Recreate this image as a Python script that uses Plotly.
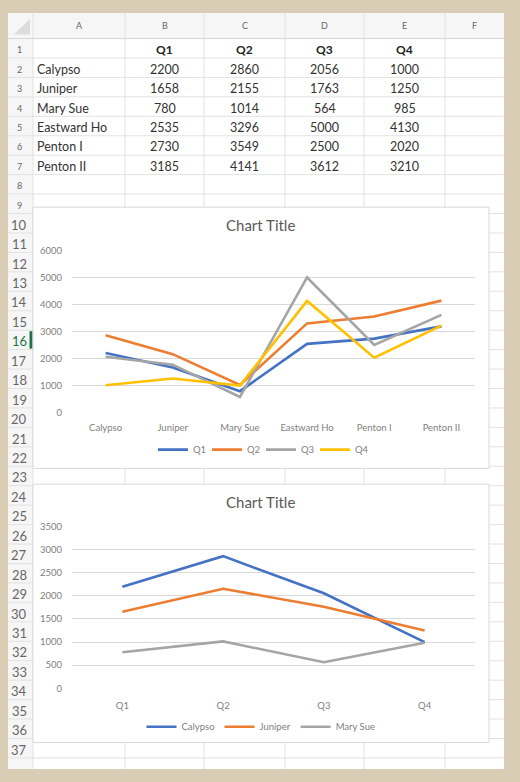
import plotly.graph_objects as go

# ---------------- data ----------------
names = ["Calypso", "Juniper", "Mary Sue", "Eastward Ho", "Penton I", "Penton II"]
quarters = ["Q1", "Q2", "Q3", "Q4"]
q1 = [2200, 1658, 780, 2535, 2730, 3185]
q2 = [2860, 2155, 1014, 3296, 3549, 4141]
q3 = [2056, 1763, 564, 5000, 2500, 3612]
q4 = [1000, 1250, 985, 4130, 2020, 3210]
col_letters = ["A", "B", "C", "D", "E", "F"]
chart_title = "Chart Title"
second_chart_names = ["Calypso", "Juniper", "Mary Sue"]

# ---------------- layout constants ----------------
W, H = 520, 782
FONT = "Lato, 'Liberation Sans', sans-serif"
colors = ["#4472C4", "#ED7D31", "#A5A5A5", "#FFC000"]
BG = "#d9cdb5"
GRID = "#e2e2e2"

def fx(x):
    return x / W

def fy(y):
    return 1 - y / H

sheet_l, sheet_r, sheet_t, sheet_b = 8, 504, 7, 774
hdr_b = 33
rownum_r = 33
row_h = 19.72
col_edges = [33, 125, 204, 285, 364, 445, 504]
n_rows = 38

shapes = []
annotations = []

def rect(x0, y0, x1, y1, fill, line=None, lw=0, layer="below"):
    shapes.append(dict(type="rect", xref="paper", yref="paper",
                       x0=fx(x0), x1=fx(x1), y0=fy(y1), y1=fy(y0),
                       fillcolor=fill, line=dict(color=line or fill, width=lw),
                       layer=layer))

def hline(x0, x1, y, color=GRID, w=1):
    shapes.append(dict(type="line", xref="paper", yref="paper",
                       x0=fx(x0), x1=fx(x1), y0=fy(y), y1=fy(y),
                       line=dict(color=color, width=w), layer="below"))

def vline(x, y0, y1, color=GRID, w=1):
    shapes.append(dict(type="line", xref="paper", yref="paper",
                       x0=fx(x), x1=fx(x), y0=fy(y0), y1=fy(y1),
                       line=dict(color=color, width=w), layer="below"))

def text(x, y, s, size=10, color="#333333", anchor="center", bold=False):
    annotations.append(dict(xref="paper", yref="paper", x=fx(x), y=fy(y),
                            text=f"<b>{s}</b>" if bold else s, showarrow=False,
                            xanchor=anchor, yanchor="middle",
                            font=dict(family=FONT, size=size, color=color)))

# sheet
rect(sheet_l, sheet_t, sheet_r, sheet_b, "white")
rect(sheet_l, sheet_t, sheet_r, hdr_b, "#f6f6f6")
rect(sheet_l, hdr_b, rownum_r, sheet_b, "#f6f6f6")
# corner triangle
shapes.append(dict(type="path", xref="paper", yref="paper",
                   path=f"M {fx(30)} {fy(29)} L {fx(30)} {fy(13)} L {fx(14)} {fy(29)} Z",
                   fillcolor="#dcdcdc", line=dict(width=0), layer="below"))

# column gridlines and header letters
for i, x in enumerate(col_edges[:-1]):
    vline(x, sheet_t, sheet_b)
for i, letter in enumerate(col_letters):
    cx = (col_edges[i] + col_edges[i + 1]) / 2
    text(cx, 20, letter, size=9, color="#666666")
hline(sheet_l, sheet_r, hdr_b, color="#d6d6d6")

# row gridlines and row numbers
for r in range(1, n_rows + 1):
    top = hdr_b + (r - 1) * row_h
    bot = top + row_h
    if bot < sheet_b:
        hline(sheet_l, sheet_r, bot)
    cy = top + row_h / 2 + 1.5
    if cy < sheet_b:
        txtcol = "#217346" if r == 16 else "#666666"
        text(19, cy, str(r), size=9 if r < 10 else 13, color=txtcol)

# selected row marker
r16_top = hdr_b + 15 * row_h
rect(29.5, r16_top + 1, 32.5, r16_top + row_h - 1, "#217346")

# table contents
def row_center(r):
    return hdr_b + (r - 1) * row_h + row_h / 2 + 1.5

for j, q in enumerate(quarters):
    cx = (col_edges[j + 1] + col_edges[j + 2]) / 2
    text(cx, row_center(1), q, size=12, bold=True, color="#222222")
series = [q1, q2, q3, q4]
for i, nm in enumerate(names):
    cy = row_center(i + 2)
    text(35, cy, nm, size=12.5, anchor="left")
    for j in range(4):
        cx = (col_edges[j + 1] + col_edges[j + 2]) / 2
        text(cx, cy, str(series[j][i]), size=12.5)

# chart boxes
rect(33, 204, 489, 469, "white", line="#d9d9d9", lw=1)
rect(33, 485, 489, 747, "white", line="#d9d9d9", lw=1)
text(260, 222, chart_title, size=15, color="#595959")
text(260, 503, chart_title, size=15, color="#595959")

# ---------------- traces ----------------
fig = go.Figure()
for j, q in enumerate(quarters):
    fig.add_trace(go.Scatter(x=names, y=series[j], mode="lines", name=q,
                             line=dict(color=colors[j], width=2.6),
                             xaxis="x", yaxis="y", legend="legend"))
for k, nm in enumerate(second_chart_names):
    idx = names.index(nm)
    vals = [s[idx] for s in series]
    fig.add_trace(go.Scatter(x=quarters, y=vals, mode="lines", name=nm,
                             line=dict(color=colors[k], width=2.6),
                             xaxis="x2", yaxis="y2", legend="legend2"))

tickfont = dict(family=FONT, size=9.5, color="#808080")
axis_common = dict(showline=False, zeroline=False, ticks="", tickfont=tickfont, fixedrange=True)
legfont = dict(family=FONT, size=9.5, color="#808080")

fig.update_layout(
    width=W, height=H, margin=dict(l=0, r=0, t=0, b=0),
    paper_bgcolor=BG, plot_bgcolor="rgba(0,0,0,0)",
    shapes=shapes, annotations=annotations,
    xaxis=dict(domain=[fx(72), fx(475)], anchor="y", range=[-0.5, 5.5],
               showgrid=False, ticklabelstandoff=8, **axis_common),
    yaxis=dict(domain=[fy(412), fy(248)], anchor="x", range=[0, 6000],
               tickvals=list(range(0, 6001, 1000)), showgrid=True,
               gridcolor="#d9d9d9", gridwidth=1, ticklabelstandoff=9, **axis_common),
    xaxis2=dict(domain=[fx(72), fx(475)], anchor="y2", range=[-0.5, 3.5],
                showgrid=False, ticklabelstandoff=10, **axis_common),
    yaxis2=dict(domain=[fy(692), fy(528)], anchor="x2", range=[0, 3500],
                tickvals=list(range(0, 3501, 500)), showgrid=True,
                gridcolor="#d9d9d9", gridwidth=1, ticklabelstandoff=9, **axis_common),
    legend=dict(orientation="h", x=fx(261), y=fy(450), xanchor="center", yanchor="middle",
                bgcolor="rgba(0,0,0,0)", font=legfont, tracegroupgap=0,
                entrywidth=9, entrywidthmode="pixels"),
    legend2=dict(orientation="h", x=fx(261), y=fy(731), xanchor="center", yanchor="middle",
                 bgcolor="rgba(0,0,0,0)", font=legfont, tracegroupgap=0),
    showlegend=True,
)

fig.write_html("out.html", config={"displayModeBar": False},
               post_script="document.body.style.margin='0';document.body.style.overflow='hidden';")
